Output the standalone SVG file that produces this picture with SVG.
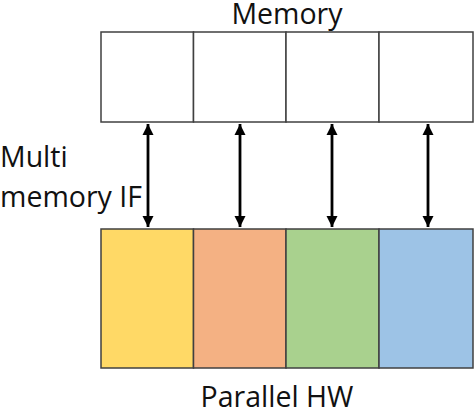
<svg xmlns="http://www.w3.org/2000/svg" width="474" height="413" viewBox="0 0 474 413">
<defs>
<marker id="ah" viewBox="0 0 10 10" refX="10" refY="5" markerWidth="4" markerHeight="4" orient="auto-start-reverse"><path d="M0,0 L10,5 L0,10 z" fill="#000"/></marker>
<style>
.box{stroke:#404040;stroke-width:1.5}
.lbl{font-family:"Open Sans","Liberation Sans",sans-serif;font-size:28.5px;fill:#111}
.con{stroke:#000;stroke-width:2.8;fill:none}
</style>
</defs>
<rect width="474" height="413" fill="#fff"/>
<text class="lbl" x="287" y="24" text-anchor="middle">Memory</text>
<g id="mem1"><rect class="box" x="101" y="32" width="92.5" height="90" fill="#fff"/></g>
<g id="mem2"><rect class="box" x="193.5" y="32" width="92.5" height="90" fill="#fff"/></g>
<g id="mem3"><rect class="box" x="286" y="32" width="93" height="90" fill="#fff"/></g>
<g id="mem4"><rect class="box" x="379" y="32" width="94" height="90" fill="#fff"/></g>
<g id="hw1"><rect class="box" x="101" y="229" width="92.5" height="139" fill="#FFD966"/></g>
<g id="hw2"><rect class="box" x="193.5" y="229" width="92.5" height="139" fill="#F4B183"/></g>
<g id="hw3"><rect class="box" x="286" y="229" width="93" height="139" fill="#A9D18E"/></g>
<g id="hw4"><rect class="box" x="379" y="229" width="94" height="139" fill="#9DC3E6"/></g>
<g id="connectors">
<line class="con" x1="148" y1="124" x2="148" y2="227" marker-start="url(#ah)" marker-end="url(#ah)"/>
<line class="con" x1="240" y1="124" x2="240" y2="227" marker-start="url(#ah)" marker-end="url(#ah)"/>
<line class="con" x1="332" y1="124" x2="332" y2="227" marker-start="url(#ah)" marker-end="url(#ah)"/>
<line class="con" x1="428" y1="124" x2="428" y2="227" marker-start="url(#ah)" marker-end="url(#ah)"/>
</g>
<text class="lbl" x="0" y="167">Multi</text>
<text class="lbl" x="0" y="207">memory IF</text>
<text class="lbl" x="277" y="407" text-anchor="middle">Parallel HW</text>
</svg>
